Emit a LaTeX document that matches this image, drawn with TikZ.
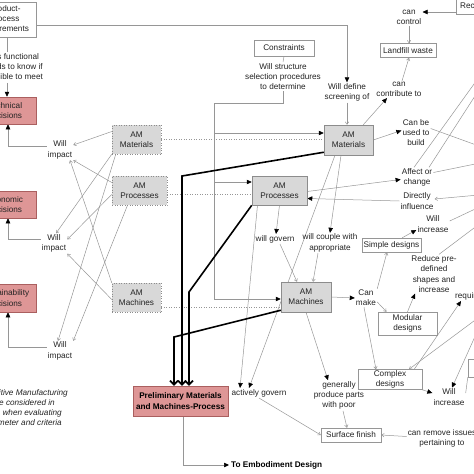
\documentclass[tikz,border=0pt]{standalone}
\usepackage{fontspec}
\setmainfont{Liberation Sans}
\usetikzlibrary{arrows.meta}
\pgfdeclarelayer{bg}
\pgfsetlayers{bg,main}
\definecolor{linec}{RGB}{150,150,150}
\definecolor{pinkf}{RGB}{222,150,150}
\definecolor{pinkd}{RGB}{170,95,95}
\definecolor{grayf}{RGB}{216,216,216}
\definecolor{grayd}{RGB}{140,140,140}
\definecolor{txt}{RGB}{35,35,35}
\begin{document}
\begin{tikzpicture}[x=1pt,y=-1pt,
 every node/.style={font=\fontsize{8.2}{10.3}\selectfont, text=txt, inner sep=1pt, align=center},
 concept/.style={draw=linec, fill=white, line width=0.5pt, inner sep=0pt},
 amleft/.style={draw=grayd, dotted, fill=grayf, inner sep=0pt, line width=0.5pt},
 ammid/.style={draw=grayd, fill=grayf, inner sep=0pt, line width=0.5pt},
 pinkbox/.style={draw=pinkd, fill=pinkf, inner sep=0pt, line width=0.5pt},
 link/.style={draw=linec, line width=0.5pt, -{Straight Barb[length=2.5pt,width=3.5pt]}},
 plain/.style={draw=linec, line width=0.5pt},
 blk/.style={draw=linec, line width=0.5pt, -{Triangle[length=5pt,width=4.5pt,color=black]}},
 dotl/.style={draw=linec, line width=0.5pt, dotted},
 thk/.style={draw=black, line width=1.6pt, -{Straight Barb[length=4pt,width=8pt]}}
]
\useasboundingbox (0,0) rectangle (474,474);
\clip (0,0) rectangle (474,474);

% concepts
\node[concept, minimum width=62pt, minimum height=35pt] (req) at (5,19.5) {Product-\\process\\requirements};
\node[pinkbox, minimum width=62pt, minimum height=27pt] (tech) at (5,110.5) {Technical\\decisions};
\node[pinkbox, minimum width=62pt, minimum height=27pt] (econ) at (5,204.5) {Economic\\decisions};
\node[pinkbox, minimum width=62pt, minimum height=28pt] (sust) at (5,298) {Sustainability\\decisions};
\node[amleft, minimum width=49pt, minimum height=29pt] (mat1) at (136.5,139.5) {AM\\Materials};
\node[amleft, minimum width=55pt, minimum height=29pt] (proc1) at (139.5,190.5) {AM\\Processes};
\node[amleft, minimum width=49pt, minimum height=29pt] (mach1) at (136.5,297.5) {AM\\Machines};
\node[ammid, minimum width=49pt, minimum height=30pt] (mat2) at (348.5,140) {AM\\Materials};
\node[ammid, minimum width=55pt, minimum height=29pt] (proc2) at (279.5,190.5) {AM\\Processes};
\node[ammid, minimum width=50pt, minimum height=30pt] (mach2) at (306,297) {AM\\Machines};
\node[concept, minimum width=60pt, minimum height=16pt] (cons) at (284,48) {Constraints};
\node[concept, minimum width=56pt, minimum height=14pt] (landfill) at (408,50.5) {Landfill waste};
\node[concept, minimum width=44pt, minimum height=16pt] (recyc) at (478,6) {Recycling};
\node[concept, minimum width=59pt, minimum height=14pt] (simple) at (391.5,245) {Simple designs};
\node[concept, minimum width=59pt, minimum height=23pt] (modular) at (407.5,323.5) {Modular\\designs};
\node[concept, minimum width=64pt, minimum height=20pt] (complex) at (390,379.5) {Complex\\designs};
\node[concept, minimum width=60pt, minimum height=14pt] (surface) at (351,435) {Surface finish};
\node[concept, minimum width=52pt, minimum height=18pt] (rbox) at (494,368) {};
\node[pinkbox, minimum width=95pt, minimum height=30pt, font=\fontsize{8.2}{10.3}\selectfont\bfseries, text=black] (prelim) at (180.5,401) {Preliminary Materials\\and Machines-Process};

% linking phrases
\node (fn) at (13,67.5) {Has functional\\needs to know if\\possible to meet};
\node (wi1) at (60,150) {Will\\impact};
\node (wi2) at (54,243.5) {Will\\impact};
\node (wi3) at (60,351) {Will\\impact};
\node (struct) at (283,76.5) {Will structure\\selection procedures\\to determine};
\node (define) at (347,92.5) {Will define\\screening of};
\node (canctrl) at (409,17.5) {can\\control};
\node (contrib) at (399,89.5) {can\\contribute to};
\node (build) at (416,132.5) {Can be\\used to\\build};
\node (affect) at (417,177.5) {Affect or\\change};
\node (dinfl) at (417,201) {Directly\\influence};
\node (wincr1) at (433,224) {Will\\increase};
\node (couple) at (330,243) {will couple with\\appropriate};
\node (govern) at (275,239) {will govern};
\node (canmake) at (366,298) {Can\\make};
\node (reduce) at (434,274) {Reduce pre-\\defined\\shapes and\\increase};
\node[anchor=west] (requ) at (454,296) {requires};
\node (wincr2) at (449,397) {Will\\increase};
\node (remove) at (442,438.5) {can remove issues\\pertaining to};
\node (produce) at (339,395.5) {generally\\produce parts\\with poor};
\node (actgov) at (259,393) {actively govern};
\node[anchor=west, font=\fontsize{8.2}{10.3}\selectfont\bfseries, text=black] (embod) at (230,465) {To Embodiment Design};
\node[anchor=east, align=right, font=\fontsize{8.2}{10}\selectfont\itshape] (ital) at (69,408) {Additive Manufacturing\\must be considered in\rule{13pt}{0pt}\\design when evaluating\rule{6pt}{0pt}\\parameter and criteria\rule{6pt}{0pt}};

\coordinate (v0) at (214,103);
\coordinate (v1) at (214,133);
\coordinate (v2) at (214,182);
\coordinate (v3) at (214,299);
\coordinate (r1) at (490,194);
\coordinate (r2) at (487,66);
\coordinate (r3) at (484,82);
\coordinate (r4) at (490,161);
\coordinate (r5) at (490,150);
\coordinate (r6) at (490,202);
\coordinate (r7) at (490,216);
\coordinate (r8) at (486,312);
\coordinate (k1) at (182,176);
\coordinate (k2) at (189,292);
\coordinate (k3) at (174,337);

\begin{pgfonlayer}{bg}
% requirements branch
\draw[blk] ([yshift=-5.5pt]req.east) -| (define.north);
\draw[link] (define.south) -- ([xshift=-1.5pt]mat2.north);
\draw[plain] ([xshift=2pt]req.south) -- ([xshift=2pt]req.south |- fn.north);
\draw[blk] ([xshift=2pt]req.south |- fn.south) -- ([xshift=2pt]tech.north);
% will impact to decisions
\draw[blk] ([yshift=4pt]wi1.west) -| ([xshift=3pt]tech.south);
\draw[blk] ([yshift=4pt]wi2.west) -| ([xshift=3pt]econ.south);
\draw[blk] ([yshift=4pt]wi3.west) -| ([xshift=3pt]sust.south);
% AM left to will impact
\draw[link] ([yshift=8pt]mat1.west) -- ([yshift=5pt]wi1.east);
\draw[link] ([yshift=8pt]proc1.west) -- (wi1.south east);
\draw[link] (mach1.north west) -- ([xshift=10pt]wi1.south);
\draw[link] (mat1.south west) -- ([xshift=2pt]wi2.north);
\draw[link] ([yshift=-4pt]proc1.west) -- ([yshift=4pt]wi2.east);
\draw[link] ([yshift=-2pt]mach1.west) -- (wi2.south east);
\draw[link] ([xshift=4pt]mat1.south west) -- ([xshift=-2pt]wi3.north);
\draw[link] ([xshift=-12pt]proc1.south) -- (wi3.north east);
% dotted links
\draw[dotl] (mat1.east) -- (mat1.east -| mat2.west);
\draw[dotl] ([yshift=-4pt]proc1.east) -- ([yshift=-4pt]proc1.east -| proc2.west);
\draw[dotl] ([yshift=-10pt]mach1.east) -- ([yshift=-10pt]mach1.east -| mach2.west);
% constraints
\draw[plain] (cons.south) -- (struct.north);
\draw[plain] (struct.south) |- (v0) -- (v3);
\draw[blk] (v1) -- (v1 -| mat2.west);
\draw[blk] (v2) -- (v2 -| proc2.west);
\draw[blk] (v3) -- (v3 -| mach2.west);
% top right
\draw[blk] ([yshift=-6pt]recyc.west) -- ([yshift=5.5pt]canctrl.east);
\draw[link] (canctrl.south) -- ([xshift=1pt]landfill.north);
\draw[link] ([xshift=3pt]contrib.north) -- ([xshift=1pt]landfill.south);
\draw[blk] ([xshift=-10pt]mat2.north east) -- ([xshift=-12pt]contrib.south);
\draw[blk] (mat2.east) -- ([yshift=2pt]build.west);
\draw[plain] ([yshift=4pt]build.east) -- (r5);
\draw[blk] ([yshift=-1pt]proc2.east) -- ([yshift=-2pt]affect.west);
\draw[blk] (dinfl.west) -- ([yshift=-8pt]proc2.east);
\draw[link] (r1) -- ([yshift=2pt]dinfl.east);
\draw[plain] ([xshift=-3pt]affect.north) -- (r2);
\draw[plain] ([xshift=12pt]affect.north) -- (r3);
\draw[plain] ([yshift=5pt]affect.east) -- (r4);
\draw[blk] ([xshift=-19pt]simple.north east) -- ([yshift=-6pt]wincr1.west);
\draw[plain] ([yshift=3pt]wincr1.east) -- (r6);
% middle
\draw[blk] ([xshift=-7.5pt]mat2.south) -- (couple.north);
\draw[link] ([xshift=-12pt]couple.south) -- ([xshift=7pt]mach2.north);
\draw[blk] (proc2.south) -- ([xshift=1pt]govern.north);
\draw[link] ([xshift=5pt]govern.south) -- ([xshift=-9pt]mach2.north);
\draw[blk] ([xshift=-22pt]proc2.south) -- ([xshift=-19pt]actgov.north);
\draw[blk] ([xshift=-13.5pt]mat2.south) -- ([xshift=-10pt]actgov.north);
\draw[blk] (mach2.east) -- (canmake.west);
\draw[link] (canmake.north east) -- ([xshift=-4.5pt]simple.south);
\draw[link] ([yshift=-4pt]canmake.east) -- ([xshift=-21pt]modular.north);
\draw[link] ([xshift=-2pt]canmake.south) -- ([xshift=-14pt]complex.north);
\draw[blk] (modular.north) -- ([xshift=-19pt]reduce.south);
\draw[plain] ([xshift=5pt]reduce.north) -- (r7);
\draw[blk] ([xshift=-8pt]complex.north east) -- ([xshift=7pt]requ.south west);
\draw[link] (r8) -- ([xshift=19pt]complex.north);
\draw[blk] (r8) -- ([xshift=3pt]wincr2.north);
\draw[blk] (complex.south east) -- ([yshift=4pt]wincr2.west);
\draw[plain] ([yshift=4pt]wincr2.east) -- (rbox.south west);
\draw[link] ([yshift=2pt]remove.west) -- (surface.east);
\draw[blk] (mach2.south) -- ([xshift=-11pt]produce.north);
\draw[link] ([xshift=4pt]produce.south) -- ([xshift=-4pt]surface.north);
\draw[link] (actgov.south) -- (surface.west);
% thick links
\draw[thk] ([yshift=3pt]mat2.south west) -- (k1) -- (k1 |- prelim.north);
\draw[thk] (proc2.south west) -- (k2) -- (k2 |- prelim.north);
\draw[thk] ([yshift=2pt]mach2.south west) -- (k3) -- (k3 |- prelim.north);
\draw[blk, shorten >=1pt] ([xshift=2.5pt]prelim.south) |- (embod.west);
\end{pgfonlayer}
\end{tikzpicture}
\end{document}
